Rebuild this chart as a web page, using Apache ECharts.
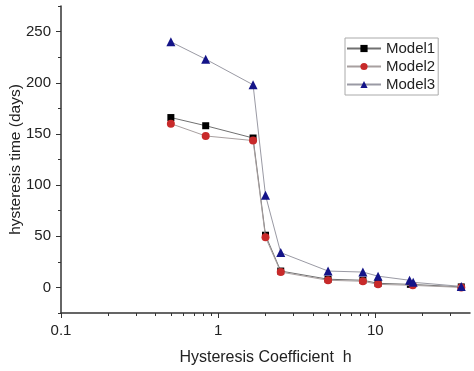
<!DOCTYPE html>
<html>
<head>
<meta charset="utf-8">
<script src="https://cdn.jsdelivr.net/npm/echarts@6/dist/echarts.min.js"></script>
<style>html,body{margin:0;padding:0;background:#fff;}#c{width:474px;height:371px;}</style>
</head>
<body>
<div id="c"></div>
<script>
const hModel1 = [0.5, 0.833, 1.667, 2, 2.5, 5, 8.33, 10.4, 16.7, 35.2];
const model1 = [166, 158, 146, 51, 16, 8, 7, 4, 3, 0.5];
const hModel2 = [0.5, 0.833, 1.667, 2, 2.5, 5, 8.33, 10.4, 17.3, 35.2];
const model2 = [160, 148, 143.5, 49, 15, 7, 6, 3, 2, 0];
const hModel3 = [0.5, 0.833, 1.667, 2, 2.5, 5, 8.33, 10.4, 16.5, 17.4, 35.2];
const model3 = [240, 223, 198, 90, 34, 16, 15, 11, 7, 5, 1];
const xMajorTicks = [0.1, 1, 10];
const xMinorTicks = [0.2,0.3,0.4,0.5,0.6,0.7,0.8,0.9,2,3,4,5,6,7,8,9,20,30];
const yMajorTicks = [0, 50, 100, 150, 200, 250];
const yMinorTicks = [-25, 25, 75, 125, 175, 225, 275];
const xMin = 0.1, xMax = 40;

const font = "'Liberation Sans', Arial, sans-serif";
const pairs = (xs, ys) => xs.map((x, i) => [x, ys[i]]);
const axisCol = '#333';
const clear = 'rgba(0,0,0,0)';

const chart = echarts.init(document.getElementById('c'));
chart.setOption({
  animation: false,
  backgroundColor: '#fff',
  textStyle: { fontFamily: font },
  grid: { left: 61, right: 4, top: 6, bottom: 58, containLabel: false, outerBoundsMode: 'none' },
  legend: {
    orient: 'vertical', left: 345, top: 38,
    data: ['Model1', 'Model2', 'Model3'],
    borderColor: '#aaa', borderWidth: 1,
    padding: [3, 3, 3, 1],
    itemGap: 3, itemWidth: 34, itemHeight: 9,
    textStyle: { fontSize: 15, color: '#222', fontFamily: font, lineHeight: 15 }
  },
  xAxis: [{
    type: 'log', logBase: 10, min: xMin, max: xMax,
    name: 'Hysteresis Coefficient  h', nameLocation: 'middle', nameGap: 37, nameMoveOverlap: false,
    nameTextStyle: { fontSize: 16, color: '#222', fontFamily: font },
    axisLine: { onZero: false, lineStyle: { color: axisCol, width: 1.5 } },
    axisTick: { show: true, length: 5, customValues: xMajorTicks, lineStyle: { color: axisCol } },
    axisLabel: { fontSize: 15, color: '#222', margin: 10, customValues: xMajorTicks, fontFamily: font,
      formatter: v => String(+v.toPrecision(3)) },
    splitLine: { show: false }, minorTick: { show: false }
  }, {
    // helper axis in log10 space, used only to draw the minor ticks
    type: 'value', min: Math.log10(xMin), max: Math.log10(xMax), position: 'bottom',
    axisLine: { show: true, onZero: false, lineStyle: { color: clear } },
    axisTick: { show: true, length: 3, customValues: xMinorTicks.map(Math.log10), lineStyle: { color: axisCol } },
    axisLabel: { show: false },
    splitLine: { show: false }
  }],
  yAxis: [{
    type: 'value', min: -25, max: 275,
    name: 'hysteresis time (days)', nameLocation: 'middle', nameGap: 37, nameMoveOverlap: false,
    nameTextStyle: { fontSize: 15.5, color: '#222', fontFamily: font },
    axisLine: { show: true, onZero: false, lineStyle: { color: axisCol, width: 1.5 } },
    axisTick: { show: true, length: 5, customValues: yMajorTicks, lineStyle: { color: axisCol } },
    axisLabel: { fontSize: 15, color: '#222', margin: 10, customValues: yMajorTicks, fontFamily: font },
    splitLine: { show: false }
  }, {
    type: 'value', min: -25, max: 275, position: 'left',
    axisLine: { show: true, onZero: false, lineStyle: { color: clear } },
    axisTick: { show: true, length: 3, customValues: yMinorTicks, lineStyle: { color: axisCol } },
    axisLabel: { show: false },
    splitLine: { show: false }
  }],
  series: [{
    name: 'Model1', type: 'line', data: pairs(hModel1, model1),
    symbol: 'rect', symbolSize: 7,
    lineStyle: { color: '#707070', width: 1 },
    itemStyle: { color: '#000' }, z: 3
  }, {
    name: 'Model2', type: 'line', data: pairs(hModel2, model2),
    symbol: 'circle', symbolSize: 8,
    lineStyle: { color: '#a8a0a0', width: 1 },
    itemStyle: { color: '#c82a2a' }, z: 4
  }, {
    name: 'Model3', type: 'line', data: pairs(hModel3, model3),
    symbol: 'triangle', symbolSize: 9,
    lineStyle: { color: '#9a9aa4', width: 1 },
    itemStyle: { color: '#141488' }, z: 5
  }]
});
</script>
</body>
</html>
